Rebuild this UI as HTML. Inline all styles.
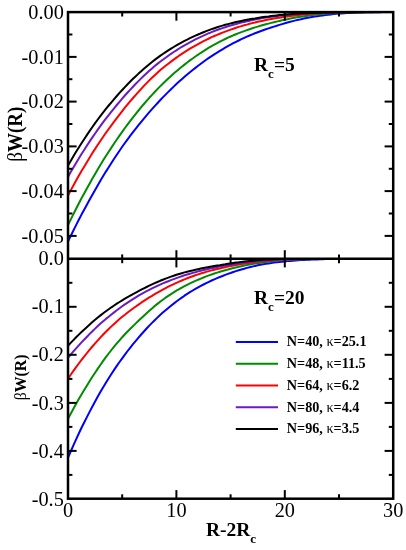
<!DOCTYPE html>
<html><head><meta charset="utf-8"><title>plot</title>
<style>
html,body{margin:0;padding:0;background:#fff;}
svg{display:block;font-family:"Liberation Serif",serif;}
.t{font-size:20.3px;fill:#000;}
.b{font-weight:bold;fill:#000;}
</style></head><body>
<svg width="406" height="550" viewBox="0 0 406 550">
<rect x="0" y="0" width="406" height="550" fill="#fff"/>
<defs><clipPath id="ct"><rect x="68" y="12" width="325.2" height="246.5"/></clipPath>
<clipPath id="cb"><rect x="68" y="258.8" width="325.2" height="240"/></clipPath></defs>

<g fill="none" stroke-width="2.0" stroke-linejoin="round" clip-path="url(#ct)">
<polyline stroke="#0000ff" points="68.0,241.5 70.7,236.0 73.4,230.5 76.1,225.1 78.8,219.8 81.5,214.6 84.3,209.5 87.0,204.5 89.7,199.5 92.4,194.7 95.1,189.9 97.8,185.2 100.5,180.6 103.2,176.1 105.9,171.6 108.7,167.3 111.4,163.0 114.1,158.8 116.8,154.7 119.5,150.7 122.2,146.8 124.9,143.0 127.6,139.3 130.3,135.6 133.0,132.1 135.8,128.6 138.5,125.2 141.2,121.8 143.9,118.6 146.6,115.4 149.3,112.2 152.0,109.2 154.7,106.1 157.4,103.2 160.1,100.3 162.8,97.4 165.6,94.6 168.3,91.9 171.0,89.2 173.7,86.6 176.4,84.1 179.1,81.6 181.8,79.2 184.5,76.8 187.2,74.5 189.9,72.2 192.7,70.0 195.4,67.9 198.1,65.8 200.8,63.8 203.5,61.8 206.2,59.8 208.9,57.9 211.6,56.1 214.3,54.3 217.1,52.6 219.8,50.9 222.5,49.3 225.2,47.7 227.9,46.1 230.6,44.7 233.3,43.2 236.0,41.8 238.7,40.5 241.4,39.2 244.2,37.9 246.9,36.7 249.6,35.5 252.3,34.4 255.0,33.3 257.7,32.2 260.4,31.2 263.1,30.2 265.8,29.3 268.5,28.4 271.2,27.5 274.0,26.6 276.7,25.8 279.4,24.9 282.1,24.1 284.8,23.3 287.5,22.5 290.2,21.8 292.9,21.1 295.6,20.4 298.4,19.7 301.1,19.2 303.8,18.6 306.5,18.1 309.2,17.6 311.9,17.1 314.6,16.6 317.3,16.2 320.0,15.8 322.7,15.4 325.4,15.0 328.2,14.7 330.9,14.4 333.6,14.1 336.3,13.8 339.0,13.6 341.7,13.4 344.4,13.2 347.1,13.0 349.8,12.9 352.6,12.8 355.3,12.7 358.0,12.6 360.7,12.5 363.4,12.4 366.1,12.3 368.8,12.3 371.5,12.2 374.2,12.2 376.9,12.2 379.6,12.2 382.4,12.1 385.1,12.1 387.8,12.1 390.5,12.1 393.2,12.1"/>
<polyline stroke="#008b00" points="68.0,225.1 70.7,219.6 73.4,214.1 76.1,208.7 78.8,203.5 81.5,198.3 84.3,193.2 87.0,188.2 89.7,183.4 92.4,178.6 95.1,173.9 97.8,169.3 100.5,164.8 103.2,160.3 105.9,156.0 108.7,151.7 111.4,147.6 114.1,143.5 116.8,139.5 119.5,135.6 122.2,131.8 124.9,128.0 127.6,124.4 130.3,120.8 133.0,117.3 135.8,113.8 138.5,110.5 141.2,107.2 143.9,104.0 146.6,100.9 149.3,97.8 152.0,94.9 154.7,92.0 157.4,89.1 160.1,86.4 162.8,83.7 165.6,81.1 168.3,78.5 171.0,76.1 173.7,73.6 176.4,71.3 179.1,69.0 181.8,66.8 184.5,64.6 187.2,62.5 189.9,60.4 192.7,58.5 195.4,56.5 198.1,54.7 200.8,52.8 203.5,51.1 206.2,49.4 208.9,47.7 211.6,46.1 214.3,44.6 217.1,43.1 219.8,41.7 222.5,40.3 225.2,39.0 227.9,37.7 230.6,36.5 233.3,35.3 236.0,34.2 238.7,33.1 241.4,32.1 244.2,31.1 246.9,30.1 249.6,29.2 252.3,28.3 255.0,27.4 257.7,26.6 260.4,25.8 263.1,25.0 265.8,24.3 268.5,23.6 271.2,22.9 274.0,22.2 276.7,21.6 279.4,20.9 282.1,20.3 284.8,19.8 287.5,19.2 290.2,18.6 292.9,18.1 295.6,17.6 298.4,17.1 301.1,16.7 303.8,16.3 306.5,15.9 309.2,15.5 311.9,15.1 314.6,14.8 317.3,14.5 320.0,14.2 322.7,14.0 325.4,13.8 328.2,13.6 330.9,13.4 333.6,13.2 336.3,13.1 339.0,13.0 341.7,12.8 344.4,12.7 347.1,12.6 349.8,12.6 352.6,12.5 355.3,12.4 358.0,12.4 360.7,12.3 363.4,12.3 366.1,12.2 368.8,12.2 371.5,12.2 374.2,12.1 376.9,12.1 379.6,12.1 382.4,12.1 385.1,12.1 387.8,12.1 390.5,12.1 393.2,12.1"/>
<polyline stroke="#ff0000" points="68.0,195.5 70.7,190.4 73.4,185.4 76.1,180.5 78.8,175.7 81.5,171.0 84.3,166.4 87.0,161.9 89.7,157.5 92.4,153.1 95.1,148.9 97.8,144.7 100.5,140.7 103.2,136.7 105.9,132.8 108.7,129.0 111.4,125.3 114.1,121.7 116.8,118.1 119.5,114.6 122.2,111.1 124.9,107.7 127.6,104.4 130.3,101.1 133.0,98.0 135.8,94.8 138.5,91.8 141.2,88.8 143.9,85.9 146.6,83.1 149.3,80.4 152.0,77.7 154.7,75.2 157.4,72.7 160.1,70.3 162.8,68.0 165.6,65.8 168.3,63.7 171.0,61.6 173.7,59.6 176.4,57.6 179.1,55.7 181.8,53.9 184.5,52.1 187.2,50.4 189.9,48.7 192.7,47.1 195.4,45.6 198.1,44.1 200.8,42.6 203.5,41.2 206.2,39.8 208.9,38.5 211.6,37.2 214.3,36.0 217.1,34.8 219.8,33.7 222.5,32.6 225.2,31.6 227.9,30.6 230.6,29.6 233.3,28.7 236.0,27.8 238.7,26.9 241.4,26.1 244.2,25.3 246.9,24.6 249.6,23.8 252.3,23.1 255.0,22.5 257.7,21.8 260.4,21.2 263.1,20.7 265.8,20.1 268.5,19.6 271.2,19.1 274.0,18.6 276.7,18.1 279.4,17.7 282.1,17.2 284.8,16.8 287.5,16.4 290.2,16.1 292.9,15.7 295.6,15.4 298.4,15.1 301.1,14.8 303.8,14.5 306.5,14.3 309.2,14.0 311.9,13.8 314.6,13.6 317.3,13.4 320.0,13.3 322.7,13.1 325.4,13.0 328.2,12.9 330.9,12.8 333.6,12.7 336.3,12.6 339.0,12.5 341.7,12.4 344.4,12.4 347.1,12.3 349.8,12.3 352.6,12.2 355.3,12.2 358.0,12.2 360.7,12.2 363.4,12.1 366.1,12.1 368.8,12.1 371.5,12.1 374.2,12.1 376.9,12.1 379.6,12.1 382.4,12.1 385.1,12.1 387.8,12.1 390.5,12.1 393.2,12.1"/>
<polyline stroke="#6a1cc4" points="68.0,176.9 70.7,172.1 73.4,167.5 76.1,162.9 78.8,158.4 81.5,154.0 84.3,149.7 87.0,145.5 89.7,141.4 92.4,137.4 95.1,133.5 97.8,129.6 100.5,125.9 103.2,122.2 105.9,118.6 108.7,115.1 111.4,111.7 114.1,108.3 116.8,105.0 119.5,101.8 122.2,98.6 124.9,95.5 127.6,92.5 130.3,89.6 133.0,86.7 135.8,83.8 138.5,81.1 141.2,78.4 143.9,75.8 146.6,73.3 149.3,70.8 152.0,68.4 154.7,66.1 157.4,63.9 160.1,61.8 162.8,59.7 165.6,57.7 168.3,55.7 171.0,53.8 173.7,52.0 176.4,50.3 179.1,48.5 181.8,46.9 184.5,45.3 187.2,43.8 189.9,42.3 192.7,40.8 195.4,39.4 198.1,38.1 200.8,36.8 203.5,35.6 206.2,34.4 208.9,33.2 211.6,32.1 214.3,31.0 217.1,30.0 219.8,29.0 222.5,28.1 225.2,27.2 227.9,26.3 230.6,25.5 233.3,24.7 236.0,24.0 238.7,23.2 241.4,22.6 244.2,21.9 246.9,21.3 249.6,20.7 252.3,20.1 255.0,19.6 257.7,19.0 260.4,18.5 263.1,18.1 265.8,17.6 268.5,17.2 271.2,16.8 274.0,16.4 276.7,16.0 279.4,15.7 282.1,15.4 284.8,15.1 287.5,14.8 290.2,14.5 292.9,14.3 295.6,14.1 298.4,13.8 301.1,13.7 303.8,13.5 306.5,13.3 309.2,13.2 311.9,13.0 314.6,12.9 317.3,12.8 320.0,12.7 322.7,12.6 325.4,12.5 328.2,12.5 330.9,12.4 333.6,12.3 336.3,12.3 339.0,12.3 341.7,12.2 344.4,12.2 347.1,12.2 349.8,12.2 352.6,12.1 355.3,12.1 358.0,12.1 360.7,12.1 363.4,12.1 366.1,12.1 368.8,12.1 371.5,12.1 374.2,12.1 376.9,12.1 379.6,12.1 382.4,12.1 385.1,12.1 387.8,12.1 390.5,12.1 393.2,12.1"/>
<polyline stroke="#000000" points="68.0,165.6 70.7,160.9 73.4,156.3 76.1,151.8 78.8,147.5 81.5,143.2 84.3,139.0 87.0,134.9 89.7,130.9 92.4,127.0 95.1,123.2 97.8,119.5 100.5,115.9 103.2,112.3 105.9,108.9 108.7,105.5 111.4,102.3 114.1,99.1 116.8,96.0 119.5,92.9 122.2,90.0 124.9,87.1 127.6,84.2 130.3,81.5 133.0,78.8 135.8,76.2 138.5,73.6 141.2,71.2 143.9,68.8 146.6,66.5 149.3,64.2 152.0,62.0 154.7,59.9 157.4,57.9 160.1,55.9 162.8,54.0 165.6,52.2 168.3,50.4 171.0,48.7 173.7,47.0 176.4,45.4 179.1,43.9 181.8,42.4 184.5,40.9 187.2,39.6 189.9,38.2 192.7,36.9 195.4,35.7 198.1,34.5 200.8,33.3 203.5,32.2 206.2,31.1 208.9,30.1 211.6,29.1 214.3,28.2 217.1,27.3 219.8,26.4 222.5,25.6 225.2,24.8 227.9,24.1 230.6,23.4 233.3,22.7 236.0,22.1 238.7,21.5 241.4,20.9 244.2,20.3 246.9,19.8 249.6,19.3 252.3,18.8 255.0,18.4 257.7,17.9 260.4,17.5 263.1,17.1 265.8,16.7 268.5,16.4 271.2,16.0 274.0,15.7 276.7,15.4 279.4,15.1 282.1,14.9 284.8,14.6 287.5,14.4 290.2,14.2 292.9,14.0 295.6,13.8 298.4,13.6 301.1,13.5 303.8,13.3 306.5,13.2 309.2,13.1 311.9,12.9 314.6,12.8 317.3,12.8 320.0,12.7 322.7,12.6 325.4,12.5 328.2,12.5 330.9,12.4 333.6,12.4 336.3,12.3 339.0,12.3 341.7,12.2 344.4,12.2 347.1,12.2 349.8,12.2 352.6,12.2 355.3,12.1 358.0,12.1 360.7,12.1 363.4,12.1 366.1,12.1 368.8,12.1 371.5,12.1 374.2,12.1 376.9,12.1 379.6,12.1 382.4,12.1 385.1,12.1 387.8,12.1 390.5,12.1 393.2,12.1"/>
</g>
<g fill="none" stroke-width="2.0" stroke-linejoin="round" clip-path="url(#cb)">
<polyline stroke="#0000ff" points="68.0,457.7 70.7,451.5 73.4,445.3 76.1,439.4 78.8,433.5 81.5,427.8 84.3,422.3 87.0,416.9 89.7,411.6 92.4,406.5 95.1,401.5 97.8,396.6 100.5,391.8 103.2,387.2 105.9,382.7 108.7,378.3 111.4,374.0 114.1,369.9 116.8,365.9 119.5,362.0 122.2,358.3 124.9,354.6 127.6,351.0 130.3,347.6 133.0,344.2 135.8,340.9 138.5,337.7 141.2,334.5 143.9,331.5 146.6,328.5 149.3,325.6 152.0,322.9 154.7,320.2 157.4,317.6 160.1,315.0 162.8,312.6 165.6,310.2 168.3,307.9 171.0,305.7 173.7,303.6 176.4,301.5 179.1,299.5 181.8,297.6 184.5,295.7 187.2,293.9 189.9,292.2 192.7,290.5 195.4,288.9 198.1,287.4 200.8,285.9 203.5,284.5 206.2,283.1 208.9,281.8 211.6,280.5 214.3,279.3 217.1,278.1 219.8,277.0 222.5,276.0 225.2,274.9 227.9,273.9 230.6,273.0 233.3,272.0 236.0,271.1 238.7,270.3 241.4,269.5 244.2,268.7 246.9,267.9 249.6,267.2 252.3,266.6 255.0,265.9 257.7,265.3 260.4,264.8 263.1,264.3 265.8,263.8 268.5,263.4 271.2,263.0 274.0,262.6 276.7,262.3 279.4,262.0 282.1,261.7 284.8,261.4 287.5,261.1 290.2,260.9 292.9,260.7 295.6,260.5 298.4,260.3 301.1,260.1 303.8,260.0 306.5,259.8 309.2,259.7 311.9,259.6 314.6,259.5 317.3,259.4 320.0,259.3 322.7,259.2 325.4,259.1 328.2,259.1 330.9,259.0 333.6,259.0 336.3,259.0 339.0,258.9 341.7,258.9 344.4,258.9 347.1,258.9 349.8,258.8 352.6,258.8 355.3,258.8 358.0,258.8 360.7,258.8 363.4,258.8 366.1,258.8 368.8,258.8 371.5,258.8 374.2,258.8 376.9,258.8 379.6,258.8 382.4,258.8 385.1,258.8 387.8,258.8 390.5,258.8 393.2,258.8"/>
<polyline stroke="#008b00" points="68.0,418.9 70.7,413.7 73.4,408.7 76.1,403.8 78.8,399.0 81.5,394.4 84.3,389.8 87.0,385.4 89.7,381.0 92.4,376.8 95.1,372.7 97.8,368.6 100.5,364.7 103.2,360.9 105.9,357.2 108.7,353.5 111.4,350.0 114.1,346.6 116.8,343.4 119.5,340.3 122.2,337.2 124.9,334.3 127.6,331.5 130.3,328.8 133.0,326.1 135.8,323.4 138.5,320.8 141.2,318.2 143.9,315.7 146.6,313.2 149.3,310.8 152.0,308.4 154.7,306.1 157.4,303.9 160.1,301.7 162.8,299.7 165.6,297.7 168.3,295.9 171.0,294.1 173.7,292.4 176.4,290.7 179.1,289.2 181.8,287.6 184.5,286.2 187.2,284.8 189.9,283.4 192.7,282.1 195.4,280.9 198.1,279.7 200.8,278.6 203.5,277.5 206.2,276.4 208.9,275.4 211.6,274.5 214.3,273.5 217.1,272.6 219.8,271.8 222.5,271.0 225.2,270.2 227.9,269.5 230.6,268.7 233.3,268.0 236.0,267.4 238.7,266.8 241.4,266.2 244.2,265.6 246.9,265.1 249.6,264.5 252.3,264.1 255.0,263.6 257.7,263.2 260.4,262.8 263.1,262.4 265.8,262.0 268.5,261.7 271.2,261.4 274.0,261.1 276.7,260.8 279.4,260.6 282.1,260.3 284.8,260.1 287.5,259.9 290.2,259.8 292.9,259.6 295.6,259.5 298.4,259.4 301.1,259.3 303.8,259.2 306.5,259.2 309.2,259.1 311.9,259.0 314.6,259.0 317.3,259.0 320.0,258.9 322.7,258.9 325.4,258.9 328.2,258.8 330.9,258.8 333.6,258.8 336.3,258.8 339.0,258.8 341.7,258.8 344.4,258.8 347.1,258.8 349.8,258.8 352.6,258.8 355.3,258.8 358.0,258.8 360.7,258.8 363.4,258.8 366.1,258.8 368.8,258.8 371.5,258.8 374.2,258.8 376.9,258.8 379.6,258.8 382.4,258.8 385.1,258.8 387.8,258.8 390.5,258.8 393.2,258.8"/>
<polyline stroke="#ff0000" points="68.0,378.7 70.7,374.8 73.4,370.9 76.1,367.1 78.8,363.5 81.5,359.9 84.3,356.4 87.0,353.0 89.7,349.7 92.4,346.5 95.1,343.4 97.8,340.4 100.5,337.4 103.2,334.5 105.9,331.7 108.7,329.0 111.4,326.4 114.1,323.9 116.8,321.4 119.5,319.1 122.2,316.8 124.9,314.7 127.6,312.5 130.3,310.5 133.0,308.5 135.8,306.5 138.5,304.6 141.2,302.7 143.9,300.9 146.6,299.1 149.3,297.4 152.0,295.8 154.7,294.1 157.4,292.6 160.1,291.1 162.8,289.6 165.6,288.1 168.3,286.7 171.0,285.4 173.7,284.1 176.4,282.8 179.1,281.6 181.8,280.5 184.5,279.4 187.2,278.3 189.9,277.3 192.7,276.3 195.4,275.3 198.1,274.4 200.8,273.5 203.5,272.7 206.2,271.9 208.9,271.1 211.6,270.4 214.3,269.7 217.1,269.0 219.8,268.4 222.5,267.8 225.2,267.2 227.9,266.6 230.6,266.1 233.3,265.5 236.0,265.0 238.7,264.6 241.4,264.1 244.2,263.7 246.9,263.2 249.6,262.9 252.3,262.5 255.0,262.1 257.7,261.8 260.4,261.5 263.1,261.2 265.8,260.9 268.5,260.7 271.2,260.4 274.0,260.2 276.7,260.1 279.4,259.9 282.1,259.7 284.8,259.6 287.5,259.5 290.2,259.4 292.9,259.3 295.6,259.2 298.4,259.2 301.1,259.1 303.8,259.0 306.5,259.0 309.2,259.0 311.9,258.9 314.6,258.9 317.3,258.9 320.0,258.8 322.7,258.8 325.4,258.8 328.2,258.8 330.9,258.8 333.6,258.8 336.3,258.8 339.0,258.8 341.7,258.8 344.4,258.8 347.1,258.8 349.8,258.8 352.6,258.8 355.3,258.8 358.0,258.8 360.7,258.8 363.4,258.8 366.1,258.8 368.8,258.8 371.5,258.8 374.2,258.8 376.9,258.8 379.6,258.8 382.4,258.8 385.1,258.8 387.8,258.8 390.5,258.8 393.2,258.8"/>
<polyline stroke="#6a1cc4" points="68.0,357.9 70.7,354.6 73.4,351.4 76.1,348.3 78.8,345.3 81.5,342.4 84.3,339.5 87.0,336.7 89.7,333.9 92.4,331.2 95.1,328.6 97.8,326.1 100.5,323.6 103.2,321.2 105.9,318.9 108.7,316.7 111.4,314.5 114.1,312.4 116.8,310.3 119.5,308.3 122.2,306.3 124.9,304.4 127.6,302.6 130.3,300.8 133.0,299.1 135.8,297.4 138.5,295.7 141.2,294.2 143.9,292.6 146.6,291.2 149.3,289.8 152.0,288.4 154.7,287.1 157.4,285.8 160.1,284.6 162.8,283.4 165.6,282.3 168.3,281.2 171.0,280.1 173.7,279.1 176.4,278.1 179.1,277.1 181.8,276.2 184.5,275.3 187.2,274.5 189.9,273.7 192.7,272.9 195.4,272.2 198.1,271.4 200.8,270.7 203.5,270.1 206.2,269.5 208.9,268.8 211.6,268.3 214.3,267.7 217.1,267.1 219.8,266.6 222.5,266.1 225.2,265.6 227.9,265.1 230.6,264.7 233.3,264.2 236.0,263.8 238.7,263.4 241.4,263.0 244.2,262.6 246.9,262.3 249.6,261.9 252.3,261.6 255.0,261.3 257.7,261.0 260.4,260.8 263.1,260.5 265.8,260.3 268.5,260.1 271.2,259.9 274.0,259.8 276.7,259.7 279.4,259.5 282.1,259.4 284.8,259.3 287.5,259.3 290.2,259.2 292.9,259.1 295.6,259.1 298.4,259.0 301.1,259.0 303.8,258.9 306.5,258.9 309.2,258.9 311.9,258.9 314.6,258.8 317.3,258.8 320.0,258.8 322.7,258.8 325.4,258.8 328.2,258.8 330.9,258.8 333.6,258.8 336.3,258.8 339.0,258.8 341.7,258.8 344.4,258.8 347.1,258.8 349.8,258.8 352.6,258.8 355.3,258.8 358.0,258.8 360.7,258.8 363.4,258.8 366.1,258.8 368.8,258.8 371.5,258.8 374.2,258.8 376.9,258.8 379.6,258.8 382.4,258.8 385.1,258.8 387.8,258.8 390.5,258.8 393.2,258.8"/>
<polyline stroke="#000000" points="68.0,345.8 70.7,342.9 73.4,340.1 76.1,337.3 78.8,334.6 81.5,332.0 84.3,329.4 87.0,326.9 89.7,324.5 92.4,322.1 95.1,319.8 97.8,317.5 100.5,315.4 103.2,313.3 105.9,311.2 108.7,309.2 111.4,307.3 114.1,305.5 116.8,303.7 119.5,302.0 122.2,300.3 124.9,298.7 127.6,297.1 130.3,295.6 133.0,294.1 135.8,292.6 138.5,291.1 141.2,289.7 143.9,288.3 146.6,287.0 149.3,285.7 152.0,284.4 154.7,283.2 157.4,282.0 160.1,280.8 162.8,279.7 165.6,278.6 168.3,277.6 171.0,276.6 173.7,275.7 176.4,274.8 179.1,274.0 181.8,273.2 184.5,272.4 187.2,271.7 189.9,271.0 192.7,270.4 195.4,269.8 198.1,269.2 200.8,268.6 203.5,268.1 206.2,267.6 208.9,267.1 211.6,266.6 214.3,266.1 217.1,265.6 219.8,265.2 222.5,264.7 225.2,264.3 227.9,263.8 230.6,263.4 233.3,263.0 236.0,262.6 238.7,262.3 241.4,261.9 244.2,261.6 246.9,261.3 249.6,261.0 252.3,260.7 255.0,260.5 257.7,260.2 260.4,260.0 263.1,259.8 265.8,259.6 268.5,259.5 271.2,259.4 274.0,259.3 276.7,259.2 279.4,259.1 282.1,259.0 284.8,259.0 287.5,258.9 290.2,258.9 292.9,258.9 295.6,258.8 298.4,258.8 301.1,258.8 303.8,258.8 306.5,258.8 309.2,258.8 311.9,258.8 314.6,258.8 317.3,258.8 320.0,258.8 322.7,258.8 325.4,258.8 328.2,258.8 330.9,258.8 333.6,258.8 336.3,258.8 339.0,258.8 341.7,258.8 344.4,258.8 347.1,258.8 349.8,258.8 352.6,258.8 355.3,258.8 358.0,258.8 360.7,258.8 363.4,258.8 366.1,258.8 368.8,258.8 371.5,258.8 374.2,258.8 376.9,258.8 379.6,258.8 382.4,258.8 385.1,258.8 387.8,258.8 390.5,258.8 393.2,258.8"/>
</g>
<g stroke="#000" stroke-width="2.5" fill="none" stroke-linecap="butt">
<rect x="68.0" y="12.1" width="325.2" height="486.59999999999997"/>
<line x1="68.0" y1="258.8" x2="393.2" y2="258.8"/>
</g>
<g stroke="#000" stroke-width="2.0">
<line x1="122.2" y1="12.1" x2="122.2" y2="16.5"/>
<line x1="122.2" y1="254.4" x2="122.2" y2="263.2"/>
<line x1="122.2" y1="494.3" x2="122.2" y2="498.7"/>
<line x1="176.4" y1="12.1" x2="176.4" y2="20.7"/>
<line x1="176.4" y1="250.2" x2="176.4" y2="267.4"/>
<line x1="176.4" y1="490.1" x2="176.4" y2="498.7"/>
<line x1="230.6" y1="12.1" x2="230.6" y2="16.5"/>
<line x1="230.6" y1="254.4" x2="230.6" y2="263.2"/>
<line x1="230.6" y1="494.3" x2="230.6" y2="498.7"/>
<line x1="284.8" y1="12.1" x2="284.8" y2="20.7"/>
<line x1="284.8" y1="250.2" x2="284.8" y2="267.4"/>
<line x1="284.8" y1="490.1" x2="284.8" y2="498.7"/>
<line x1="339.0" y1="12.1" x2="339.0" y2="16.5"/>
<line x1="339.0" y1="254.4" x2="339.0" y2="263.2"/>
<line x1="339.0" y1="494.3" x2="339.0" y2="498.7"/>
<line x1="68.0" y1="34.5" x2="72.4" y2="34.5"/>
<line x1="388.8" y1="34.5" x2="393.2" y2="34.5"/>
<line x1="68.0" y1="56.9" x2="76.6" y2="56.9"/>
<line x1="384.6" y1="56.9" x2="393.2" y2="56.9"/>
<line x1="68.0" y1="79.2" x2="72.4" y2="79.2"/>
<line x1="388.8" y1="79.2" x2="393.2" y2="79.2"/>
<line x1="68.0" y1="101.6" x2="76.6" y2="101.6"/>
<line x1="384.6" y1="101.6" x2="393.2" y2="101.6"/>
<line x1="68.0" y1="124.0" x2="72.4" y2="124.0"/>
<line x1="388.8" y1="124.0" x2="393.2" y2="124.0"/>
<line x1="68.0" y1="146.4" x2="76.6" y2="146.4"/>
<line x1="384.6" y1="146.4" x2="393.2" y2="146.4"/>
<line x1="68.0" y1="168.8" x2="72.4" y2="168.8"/>
<line x1="388.8" y1="168.8" x2="393.2" y2="168.8"/>
<line x1="68.0" y1="191.1" x2="76.6" y2="191.1"/>
<line x1="384.6" y1="191.1" x2="393.2" y2="191.1"/>
<line x1="68.0" y1="213.5" x2="72.4" y2="213.5"/>
<line x1="388.8" y1="213.5" x2="393.2" y2="213.5"/>
<line x1="68.0" y1="235.9" x2="76.6" y2="235.9"/>
<line x1="384.6" y1="235.9" x2="393.2" y2="235.9"/>
<line x1="68.0" y1="282.8" x2="72.4" y2="282.8"/>
<line x1="388.8" y1="282.8" x2="393.2" y2="282.8"/>
<line x1="68.0" y1="306.8" x2="76.6" y2="306.8"/>
<line x1="384.6" y1="306.8" x2="393.2" y2="306.8"/>
<line x1="68.0" y1="330.8" x2="72.4" y2="330.8"/>
<line x1="388.8" y1="330.8" x2="393.2" y2="330.8"/>
<line x1="68.0" y1="354.8" x2="76.6" y2="354.8"/>
<line x1="384.6" y1="354.8" x2="393.2" y2="354.8"/>
<line x1="68.0" y1="378.9" x2="72.4" y2="378.9"/>
<line x1="388.8" y1="378.9" x2="393.2" y2="378.9"/>
<line x1="68.0" y1="402.9" x2="76.6" y2="402.9"/>
<line x1="384.6" y1="402.9" x2="393.2" y2="402.9"/>
<line x1="68.0" y1="426.9" x2="72.4" y2="426.9"/>
<line x1="388.8" y1="426.9" x2="393.2" y2="426.9"/>
<line x1="68.0" y1="450.9" x2="76.6" y2="450.9"/>
<line x1="384.6" y1="450.9" x2="393.2" y2="450.9"/>
<line x1="68.0" y1="474.9" x2="72.4" y2="474.9"/>
<line x1="388.8" y1="474.9" x2="393.2" y2="474.9"/>
</g>
<g class="t" text-anchor="end">
<text x="63.8" y="18.7">0.00</text>
<text x="63.8" y="63.5">-0.01</text>
<text x="63.8" y="108.2">-0.02</text>
<text x="63.8" y="153.0">-0.03</text>
<text x="63.8" y="197.7">-0.04</text>
<text x="63.8" y="242.5">-0.05</text>
<text x="63.8" y="265.4">0.0</text>
<text x="63.8" y="313.4">-0.1</text>
<text x="63.8" y="361.4">-0.2</text>
<text x="63.8" y="409.5">-0.3</text>
<text x="63.8" y="457.5">-0.4</text>
<text x="63.8" y="505.5">-0.5</text>
</g>
<g class="t" text-anchor="middle">
<text x="68.0" y="517.4">0</text>
<text x="176.4" y="517.4">10</text>
<text x="284.8" y="517.4">20</text>
<text x="393.2" y="517.4">30</text>
</g>
<text class="b" font-size="19.5" x="205.9" y="535.5">R-2R<tspan font-size="13" dy="7">c</tspan></text>
<text class="b" font-size="20.4" transform="translate(22.2,161.8) rotate(-90) scale(0.935,1)"><tspan font-weight="normal">β</tspan>W(R)</text>
<text class="b" font-size="15.8" transform="translate(26,400.3) rotate(-90)"><tspan font-weight="normal">β</tspan>W(R)</text>
<text class="b" font-size="19.5" x="254" y="70.6">R<tspan font-size="13" dy="7.4">c</tspan><tspan dy="-7.4">=5</tspan></text>
<text class="b" font-size="19.5" x="254" y="303.6">R<tspan font-size="13" dy="7.4">c</tspan><tspan dy="-7.4">=20</tspan></text>
<line x1="235.8" y1="342.1" x2="278" y2="342.1" stroke="#0000ff" stroke-width="2.0"/>
<text class="b" font-size="14.2" x="286.8" y="346.4">N=40, <tspan font-weight="normal">κ</tspan>=25.1</text>
<line x1="235.8" y1="363.8" x2="278" y2="363.8" stroke="#008b00" stroke-width="2.0"/>
<text class="b" font-size="14.2" x="286.8" y="368.1">N=48, <tspan font-weight="normal">κ</tspan>=11.5</text>
<line x1="235.8" y1="385.5" x2="278" y2="385.5" stroke="#ff0000" stroke-width="2.0"/>
<text class="b" font-size="14.2" x="286.8" y="389.8">N=64, <tspan font-weight="normal">κ</tspan>=6.2</text>
<line x1="235.8" y1="407.3" x2="278" y2="407.3" stroke="#6a1cc4" stroke-width="2.0"/>
<text class="b" font-size="14.2" x="286.8" y="411.6">N=80, <tspan font-weight="normal">κ</tspan>=4.4</text>
<line x1="235.8" y1="429.0" x2="278" y2="429.0" stroke="#000000" stroke-width="2.0"/>
<text class="b" font-size="14.2" x="286.8" y="433.3">N=96, <tspan font-weight="normal">κ</tspan>=3.5</text>
</svg></body></html>
